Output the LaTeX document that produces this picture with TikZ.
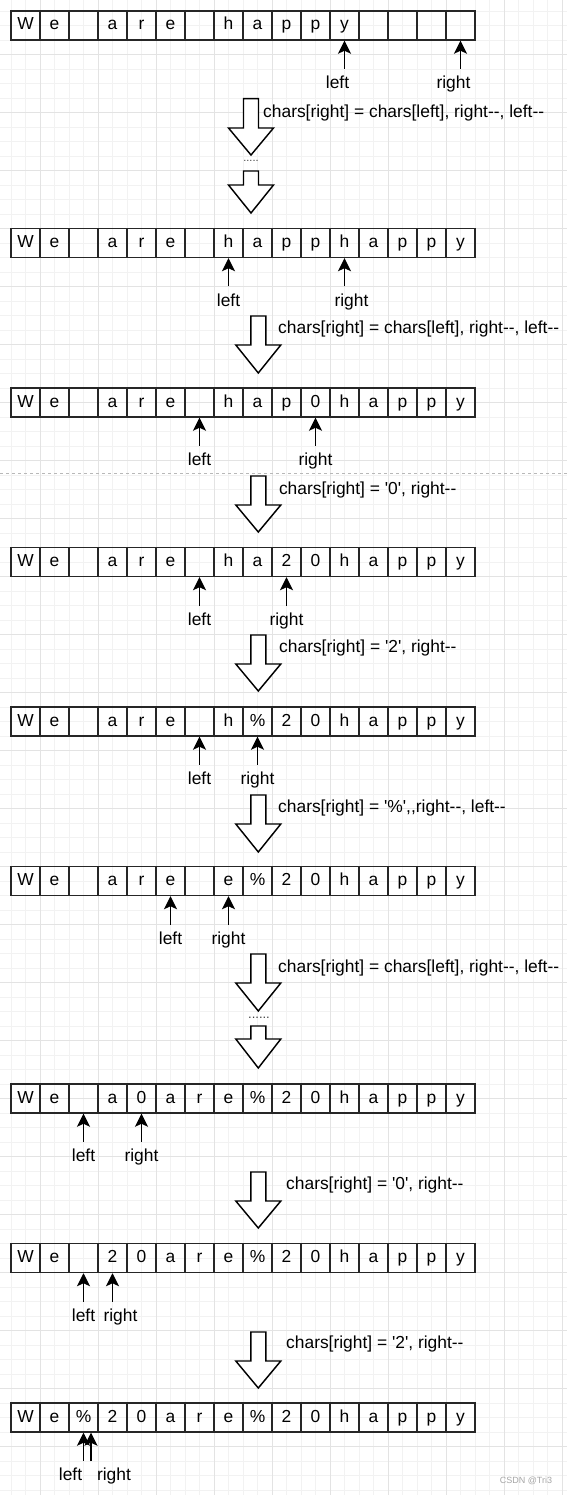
\documentclass[tikz,border=0pt]{standalone}
\usepackage{fontspec}
\newfontfamily\lsans{Liberation Sans}
\usetikzlibrary{arrows.meta}
\newcommand\barr[4]{% cx, top, headstart, tip
  \draw[barrow] ({#1-7.5},#2) -- ({#1+7.5},#2) -- ({#1+7.5},#3) -- ({#1+22.5},#3)
    -- (#1,#4) -- ({#1-22.5},#3) -- ({#1-7.5},#3) -- cycle;}
\newcommand\arr[3]{% name, top, list
  \foreach \c [count=\i from 0] in {#3}
    \node[cell] (#1-\i) at ({25.5+29*\i},{#2+14.5}) {\c};}
\newcommand\ptrpair[7]{% row, top, left idx, right idx, left label dx, right label dx, right arrow dx
  \coordinate (#1lb) at ({25.5+29*#3},{#2+58});
  \coordinate (#1rb) at ({25.5+29*#4+#7},{#2+58});
  \draw[ptr] (#1lb) -- (#1-#3.south);
  \draw[ptr] (#1rb) -- ([xshift=#7pt]#1-#4.south);
  \node[plabel] (#1ll) at ({25.5+29*#3+#5},{#2+73}) {left};
  \node[plabel] (#1rl) at ({25.5+29*#4+#6},{#2+73}) {right};}
\begin{document}
\begin{tikzpicture}[x=1pt,y=-1pt,
  txt/.style={font=\lsans\fontsize{17.4}{20}\selectfont,text height=12.6pt,text depth=3.6pt,inner sep=0pt},
  cell/.style={txt,draw=black!85,line width=1.45pt,minimum width=29pt,minimum height=29pt},
  ptr/.style={-{Stealth[length=13pt,width=13pt,inset=3pt]},line width=1.45pt,draw=black},
  plabel/.style={txt},
  oplabel/.style={txt,anchor=west},
  barrow/.style={draw=black,fill=white,line width=1.45pt,line join=miter},
  gminor/.style={draw=black!5,line width=0.8pt},
  gmajor/.style={draw=black!11,line width=0.8pt},
  dots/.style={inner sep=0pt,text=black!75},
]
\useasboundingbox (0,0) rectangle (567,1495);
\fill[white] (0,0) rectangle (567,1495);
% grid
\foreach \n in {-1,...,38} \draw[gminor] ({11+14.5*\n},0) -- ({11+14.5*\n},1495);
\foreach \n in {-1,...,102} \draw[gminor] (0,{11+14.5*\n}) -- (567,{11+14.5*\n});
\foreach \n in {-2,2,...,38} \draw[gmajor] ({11+14.5*\n},0) -- ({11+14.5*\n},1495);
\foreach \n in {-1,3,...,103} \draw[gmajor] (0,{11+14.5*\n}) -- (567,{11+14.5*\n});
% page break line
\coordinate (pbA) at (0,473.3);
\coordinate (pbB) at (567,473.3);
\draw[black!28,line width=0.8pt,dash pattern=on 3pt off 3pt] (pbA) -- (pbB);

% arrays
\arr{a1}{11}{W,e,{},a,r,e,{},h,a,p,p,y,{},{},{},{}}
\arr{a2}{228.5}{W,e,{},a,r,e,{},h,a,p,p,h,a,p,p,y}
\arr{a3}{388}{W,e,{},a,r,e,{},h,a,p,0,h,a,p,p,y}
\arr{a4}{547.5}{W,e,{},a,r,e,{},h,a,2,0,h,a,p,p,y}
\arr{a5}{707}{W,e,{},a,r,e,{},h,\%,2,0,h,a,p,p,y}
\arr{a6}{866.5}{W,e,{},a,r,e,{},e,\%,2,0,h,a,p,p,y}
\arr{a7}{1084}{W,e,{},a,0,a,r,e,\%,2,0,h,a,p,p,y}
\arr{a8}{1243.5}{W,e,{},2,0,a,r,e,\%,2,0,h,a,p,p,y}
\arr{a9}{1403}{W,e,\%,2,0,a,r,e,\%,2,0,h,a,p,p,y}

% pointers
\ptrpair{a1}{11}{11}{15}{-7}{-7}{0}
\ptrpair{a2}{228.5}{7}{11}{0}{7}{0}
\ptrpair{a3}{388}{6}{10}{0}{0}{0}
\ptrpair{a4}{547.5}{6}{9}{0}{0}{0}
\ptrpair{a5}{707}{6}{8}{0}{0}{0}
\ptrpair{a6}{866.5}{5}{7}{0}{0}{0}
\ptrpair{a7}{1084}{2}{4}{0}{0}{0}
\ptrpair{a8}{1243.5}{2}{3}{0}{8}{0}
\ptrpair{a9}{1403}{2}{2}{-13}{30.5}{7.5}

% block arrows
\barr{251}{98.7}{128}{155}
\barr{251}{171}{185}{213}
\barr{258.3}{316}{345}{373}
\barr{258.3}{476}{505}{532}
\barr{258.3}{635}{664}{691}
\barr{258.3}{795}{824}{852}
\barr{258.3}{954}{983}{1011}
\barr{258.3}{1026}{1039}{1068}
\barr{258.3}{1172}{1201}{1228}
\barr{258.3}{1332}{1361}{1388}

% dots
\node[dots,font=\lsans\fontsize{11}{12}\selectfont,anchor=base] (d1) at (251,162) {.....};
\node[dots,font=\lsans\fontsize{13}{14}\selectfont,anchor=base] (d2) at (259,1018) {......};

% operation labels
\node[oplabel] (o1) at (263,112.7) {chars[right] = chars[left], right--, left--};
\node[oplabel] (o3) at (278,329.3) {chars[right] = chars[left], right--, left--};
\node[oplabel] (o4) at (278.8,490) {chars[right] = '0', right--};
\node[oplabel] (o5) at (279,648.3) {chars[right] = '2', right--};
\node[oplabel] (o6) at (278,808) {chars[right] = '\%',,right--, left--};
\node[oplabel] (o7) at (278,968) {chars[right] = chars[left], right--, left--};
\node[oplabel] (o9) at (286,1185) {chars[right] = '0', right--};
\node[oplabel] (o10) at (286,1344) {chars[right] = '2', right--};

% watermark
\node[inner sep=0pt,text=black!35,font=\lsans\fontsize{9}{10}\selectfont] (wm) at (526,1481) {CSDN @Tri3};
\end{tikzpicture}
\end{document}
